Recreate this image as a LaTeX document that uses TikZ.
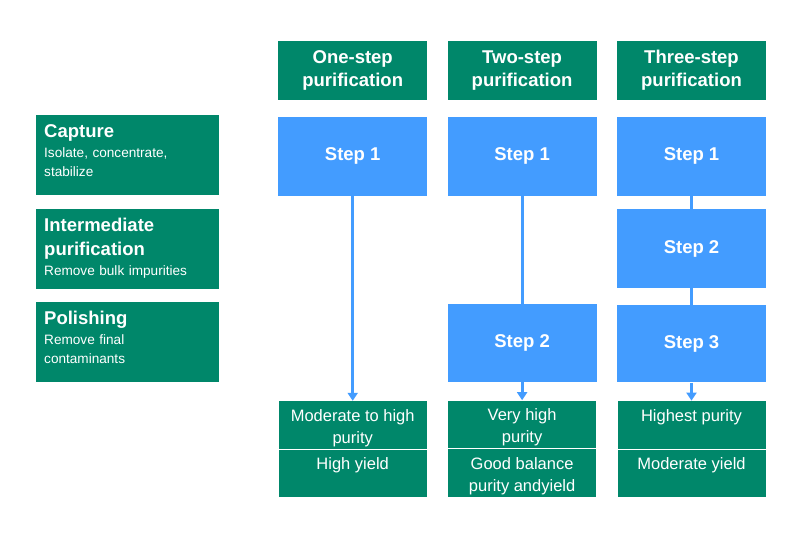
\documentclass[tikz,border=0pt]{standalone}
\usepackage{fontspec}
\setmainfont{Liberation Sans}
\usetikzlibrary{positioning,arrows.meta}

\definecolor{purigreen}{HTML}{00876A}
\definecolor{puriblue}{HTML}{439CFF}
\newcommand{\phasetitle}{\bfseries\fontsize{18.5}{24}\selectfont}

\begin{document}
\begin{tikzpicture}[x=1pt, y=-1pt, node distance=20pt,
	header/.style={rectangle, fill=purigreen, text=white, minimum width=149pt, minimum height=59pt, inner sep=0pt, align=center, font=\bfseries\fontsize{18.5}{23}\selectfont},
	stepbox/.style={rectangle, fill=puriblue, text=white, minimum width=149pt, minimum height=79pt, inner sep=0pt, font=\bfseries\fontsize{18.5}{22}\selectfont},
	phase/.style={rectangle, fill=purigreen, text=white, text width=167pt, text height=22.5pt, text depth=57.5pt, inner xsep=8pt, inner ysep=0pt, align=left, font=\fontsize{13.6}{19}\selectfont},
	result/.style={rectangle, fill=purigreen, draw=white, line width=0.8pt, outer sep=0pt, text=white, text depth=0.6pt, minimum width=149pt, minimum height=48.5pt, inner sep=0pt, align=center, font=\fontsize{16.5}{22}\selectfont},
	link/.style={draw=puriblue, line width=3pt},
	flow/.style={link, -{Triangle[width=10pt,length=8pt]}}]
	\useasboundingbox (0,0) rectangle (810,539);

	% stages on the left
	\node (capture) [phase, anchor=north west] at (36,115)
	{
		{\phasetitle Capture}\\[1pt]
		Isolate, concentrate,\\
		stabilize
	};
	\node (intermediate) [phase, below=13pt of capture]
	{
		{\phasetitle Intermediate\\[5pt]purification}\\[1pt]
		Remove bulk impurities
	};
	\node (polishing) [phase, below=13pt of intermediate]
	{
		{\phasetitle Polishing}\\[1pt]
		Remove final\\
		contaminants
	};

	% column headers
	\node (hdrone) [header, anchor=north west] at (278,41) {One-step\\purification};
	\node (hdrtwo) [header, right=of hdrone] {Two-step\\purification};
	\node (hdrthree) [header, right=of hdrtwo] {Three-step\\purification};

	% steps
	\node (onestepA) [stepbox, below=16pt of hdrone] {Step 1};
	\node (twostepA) [stepbox, below=16pt of hdrtwo] {Step 1};
	\node (twostepB) [stepbox, minimum height=78pt, below=108pt of twostepA] {Step 2};
	\node (threestepA) [stepbox, below=16pt of hdrthree] {Step 1};
	\node (threestepB) [stepbox, below=13pt of threestepA] {Step 2};
	\node (threestepC) [stepbox, minimum height=77pt, below=17pt of threestepB] {Step 3};

	% outcomes
	\node (oneresA) [result, below=205pt of onestepA] {\strut Moderate to high\\\strut purity};
	\node (oneresB) [result, below=0pt of oneresA] {\strut High yield\\\strut};
	\node (tworesA) [result, below=18pt of twostepB] {\strut Very high\\\strut purity};
	\node (tworesB) [result, below=0pt of tworesA] {\strut Good balance\\\strut purity andyield};
	\node (threeresA) [result, below=18pt of threestepC] {\strut Highest purity\\\strut};
	\node (threeresB) [result, below=0pt of threeresA] {\strut Moderate yield\\\strut};

	\draw[flow] (onestepA) -- (oneresA);
	\draw[link] (twostepA) -- (twostepB);
	\draw[flow] (twostepB) -- (tworesA);
	\draw[link] (threestepA) -- (threestepB);
	\draw[link] (threestepB) -- (threestepC);
	\draw[flow] (threestepC) -- (threeresA);
\end{tikzpicture}
\end{document}
